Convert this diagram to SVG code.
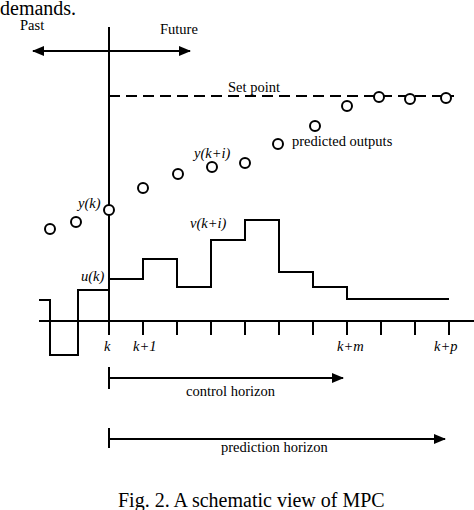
<svg xmlns="http://www.w3.org/2000/svg" width="474" height="510" viewBox="0 0 474 510">
<style>
text{font-family:"Liberation Serif","Times New Roman",serif;fill:#000}
.lbl{font-size:14.5px}
.it{font-size:14.5px;font-style:italic}
.big{font-size:20px}
.ln{stroke:#000;stroke-width:2;fill:none}
.pt{stroke:#000;stroke-width:2;fill:#fff}
</style>
<defs>
<marker id="ah" viewBox="0 0 12 10" refX="11" refY="5" markerWidth="12" markerHeight="10" markerUnits="userSpaceOnUse" orient="auto-start-reverse">
<path d="M0,0 L12,5 L0,10 Z" fill="#000"/>
</marker>
</defs>
<rect width="474" height="510" fill="#fff"/>
<text class="big" x="0" y="15">demands.</text>
<g id="axes">
<line class="ln" x1="109" y1="27" x2="109" y2="335"/>
<line class="ln" x1="39" y1="321" x2="474" y2="321"/>
<g id="ticks">
<line class="ln" x1="143" y1="321" x2="143" y2="335"/>
<line class="ln" x1="177" y1="321" x2="177" y2="335"/>
<line class="ln" x1="211" y1="321" x2="211" y2="335"/>
<line class="ln" x1="245" y1="321" x2="245" y2="335"/>
<line class="ln" x1="279" y1="321" x2="279" y2="335"/>
<line class="ln" x1="313" y1="321" x2="313" y2="335"/>
<line class="ln" x1="347" y1="321" x2="347" y2="335"/>
<line class="ln" x1="381" y1="321" x2="381" y2="335"/>
<line class="ln" x1="415" y1="321" x2="415" y2="335"/>
<line class="ln" x1="449" y1="321" x2="449" y2="335"/>
</g>
<text class="it" x="104" y="351">k</text>
<text class="it" x="133" y="351">k+1</text>
<text class="it" x="337" y="351">k+m</text>
<text class="it" x="434" y="351">k+p</text>
</g>
<g id="time-arrow">
<line class="ln" x1="33" y1="51" x2="190" y2="51" marker-start="url(#ah)" marker-end="url(#ah)"/>
<text class="lbl" x="20" y="30">Past</text>
<text class="lbl" x="160" y="34">Future</text>
</g>
<g id="setpoint">
<line class="ln" x1="109" y1="96" x2="454" y2="96" stroke-dasharray="11 6"/>
<text class="lbl" x="228" y="92">Set point</text>
</g>
<g id="outputs">
<circle class="pt" cx="50" cy="229" r="5"/>
<circle class="pt" cx="76" cy="222" r="5"/>
<circle class="pt" cx="109" cy="210" r="5"/>
<circle class="pt" cx="143" cy="188" r="5"/>
<circle class="pt" cx="178" cy="174" r="5"/>
<circle class="pt" cx="212" cy="167" r="5"/>
<circle class="pt" cx="245" cy="163" r="5"/>
<circle class="pt" cx="278" cy="144" r="5"/>
<circle class="pt" cx="315" cy="126" r="5"/>
<circle class="pt" cx="347" cy="106" r="5"/>
<circle class="pt" cx="379" cy="97" r="5"/>
<circle class="pt" cx="410" cy="99" r="5"/>
<circle class="pt" cx="446" cy="98" r="5"/>
<text class="it" x="78" y="208">y(k)</text>
<text class="it" x="194" y="158">y(k+i)</text>
<text class="lbl" x="292" y="146">predicted outputs</text>
</g>
<g id="input">
<polyline class="ln" points="39,300 50,300 50,355 78,355 78,290 109,290 109,279 143,279 143,259 177,259 177,287 211,287 211,240 245,240 245,220 279,220 279,272 313,272 313,287 347,287 347,299 449,299"/>
<text class="it" x="81" y="281">u(k)</text>
<text class="it" x="190" y="228">v(k+i)</text>
</g>
<g id="connectors">
<line class="ln" x1="109" y1="367" x2="109" y2="389"/>
<line class="ln" x1="109" y1="378" x2="343" y2="378" marker-end="url(#ah)"/>
<line class="ln" x1="109" y1="428" x2="109" y2="448"/>
<line class="ln" x1="109" y1="439" x2="445" y2="439" marker-end="url(#ah)"/>
</g>
<text class="lbl" x="186" y="396">control horizon</text>
<text class="lbl" x="221" y="452">prediction horizon</text>
<text class="big" x="118" y="507">Fig. 2. A schematic view of MPC</text>
</svg>
